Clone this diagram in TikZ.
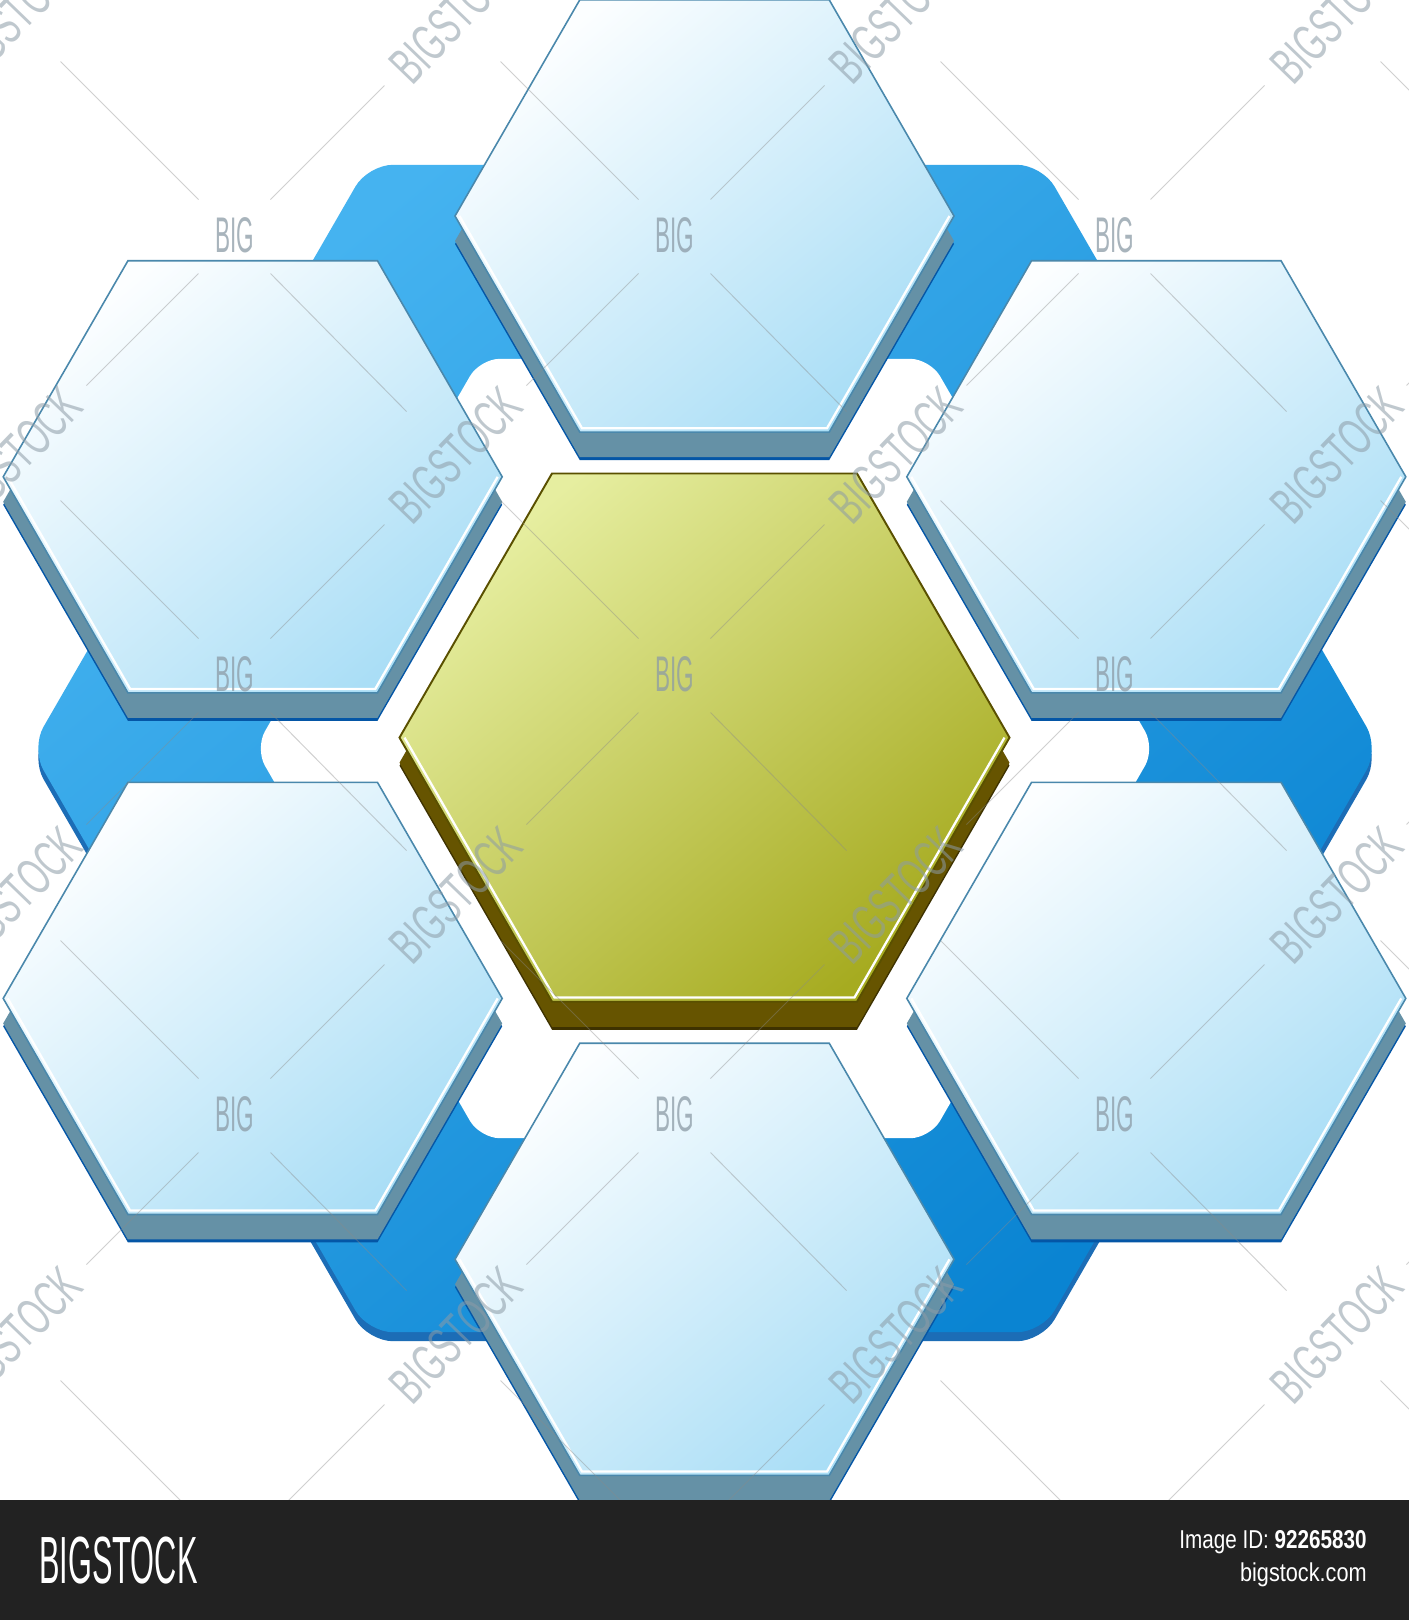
\documentclass[tikz,border=0pt]{standalone}
\usepackage{fontspec}
\setmainfont{Liberation Sans}
\usepackage{graphicx}
\usetikzlibrary{calc}
\definecolor{ringA}{HTML}{45B3F0}
\definecolor{ringB}{HTML}{0A84D2}
\definecolor{ringLip}{HTML}{1C6DB6}
\definecolor{faceA}{HTML}{FCFEFF}
\definecolor{faceB}{HTML}{AADEF6}
\definecolor{faceLine}{HTML}{4A88AC}
\definecolor{sideBlue}{HTML}{6591A6}
\definecolor{lipBlue}{HTML}{0456A6}
\definecolor{oliveA}{HTML}{E6EEA0}
\definecolor{oliveB}{HTML}{A6AB20}
\definecolor{oliveLine}{HTML}{5A5000}
\definecolor{oliveSide}{HTML}{665400}
\definecolor{oliveLip}{HTML}{3E3200}
\definecolor{bannerGray}{HTML}{222222}
\definecolor{wm}{HTML}{8C9BA6}
\definecolor{wmray}{HTML}{8A8A8A}
% hexagon (flat top) centred at #1, half-width #2, shifted down by #3
\newcommand\hexat[3]{($(#1)+(0,#3)+(0:#2)$) -- ($(#1)+(0,#3)+(60:#2)$) -- ($(#1)+(0,#3)+(120:#2)$) -- ($(#1)+(0,#3)+(180:#2)$) -- ($(#1)+(0,#3)+(240:#2)$) -- ($(#1)+(0,#3)+(300:#2)$) -- cycle}
% lower three edges
\newcommand\hexlow[2]{($(#1)+(180:#2)$) -- ($(#1)+(120:#2)$) -- ($(#1)+(60:#2)$) -- ($(#1)+(0:#2)$)}
\tikzset{
  wmbig/.style={text=wm, opacity=0.75, font=\fontsize{28.5}{30}\selectfont, inner sep=0pt},
  wmlong/.style={text=wm, opacity=0.55, font=\fontsize{30}{32}\selectfont, inner sep=0pt, rotate=46},
  wmline/.style={draw=wmray, opacity=0.4, line width=0.55pt},
}
\newcommand\bluehex[1]{%
  \fill[lipBlue] \hexat{#1}{249.5}{28};
  \fill[sideBlue] \hexat{#1}{249.5}{25};
  \shade[top color=faceA, bottom color=faceB, shading angle=40] \hexat{#1}{249.5}{0};
  \draw[faceLine, line width=0.9pt, line join=miter] \hexat{#1}{249.5}{0};
  \draw[white, line width=1.3pt] \hexlow{#1}{245};
}
\begin{document}
\begin{tikzpicture}[x=0.02cm, y=-0.02cm]
\useasboundingbox (0,0) rectangle (1409,1620);
\fill[white] (0,0) rectangle (1409,1620);

% background ring
\coordinate (ringc) at (705,748.5);
\fill[ringLip, rounded corners=0.5cm] \hexat{ringc}{674}{9};
\shade[top color=ringA, bottom color=ringB, shading angle=40, rounded corners=0.5cm] \hexat{ringc}{674}{0};
\fill[white, rounded corners=0.4cm] \hexat{ringc}{450}{0};

% hex centres
\coordinate (hc) at (704.5,737.6);
\coordinate (htop) at (704.5,216);
\coordinate (hul) at (252.7,476.8);
\coordinate (hur) at (1156.3,476.8);
\coordinate (hll) at (252.7,998.4);
\coordinate (hlr) at (1156.3,998.4);
\coordinate (hbot) at (704.5,1259.3);

\bluehex{htop}
\bluehex{hul}
\bluehex{hur}
\bluehex{hll}
\bluehex{hlr}
\bluehex{hbot}

% centre hexagon
\fill[oliveLip] \hexat{hc}{305}{28};
\fill[oliveSide] \hexat{hc}{305}{25};
\shade[top color=oliveA, bottom color=oliveB, shading angle=40] \hexat{hc}{305}{0};
\draw[oliveLine, line width=1.1pt, line join=miter] \hexat{hc}{305}{0};
\draw[white, line width=1.3pt] \hexlow{hc}{300};

% watermark rays
\foreach \gx in {-205.5,234.5,674.5,1114.5,1554.5}{
  \foreach \gy in {-205.5,235.5,674.5,1114.5,1554.5}{
    \draw[wmline] (\gx-36,\gy-36) -- (\gx-174,\gy-174);
    \draw[wmline] (\gx+36,\gy-36) -- (\gx+150,\gy-150);
    \draw[wmline] (\gx-36,\gy+38) -- (\gx-148,\gy+150);
    \draw[wmline] (\gx+36,\gy+38) -- (\gx+172,\gy+176);
  }
}

% watermark texts
\foreach \i/\x in {a/234.5,b/674.5,c/1114.6}{
  \foreach \j/\y in {a/235.5,b/674.5,c/1114.6}{
    \node[wmbig] (big\i\j) at (\x,\y) {\scalebox{0.45}[1]{BIG}};
  }
}
\foreach \i/\x in {a/16,b/456,c/896,d/1337}{
  \foreach \j/\y in {a/15,b/455,c/895,d/1335}{
    \node[wmlong] (bs\i\j) at (\x,\y) {\scalebox{0.6}[1]{BIGSTOCK}};
  }
}

% banner
\fill[bannerGray] (0,1500) rectangle (1409,1620);
\node[anchor=west, text=white, inner sep=0pt, font=\fontsize{38}{40}\selectfont] (logo) at (39,1560) {\scalebox{0.46}[1]{BIGSTOCK}};
\node[anchor=east, text=white, inner sep=0pt, font=\fontsize{14.7}{16}\selectfont] (imgid) at (1367,1542) {\scalebox{0.8}[1]{Image ID: \textbf{92265830}}};
\node[anchor=east, text=white, inner sep=0pt, font=\fontsize{14.7}{16}\selectfont] (site) at (1367,1575) {\scalebox{0.84}[1]{bigstock.com}};
\end{tikzpicture}
\end{document}
